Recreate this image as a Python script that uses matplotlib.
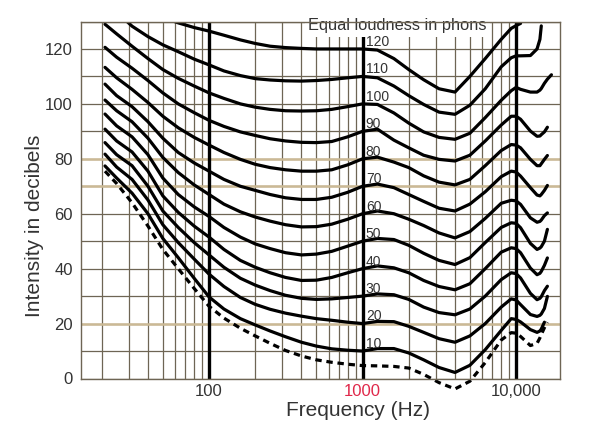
import numpy as np
import matplotlib
matplotlib.use('Agg')
import matplotlib.pyplot as plt
from matplotlib.ticker import LogLocator, FixedLocator, NullFormatter, MultipleLocator
from matplotlib.patches import Rectangle

nan = np.nan

# Frequencies (Hz) at which the curves were read
freq_hz = [21, 25, 31.5, 40, 50, 63, 80, 100, 125, 160, 200, 250, 315, 400, 500,
           630, 800, 1000, 1250, 1600, 2000, 2500, 3150, 4000, 5000, 6300, 8000,
           9300, 10000, 10700, 12400, 13700, 14300, 14600, 15300, 16000, 17000]

phon_levels = [120, 110, 100, 90, 80, 70, 60, 50, 40, 30, 20, 10]

spl_120 = [nan, nan, nan, nan, 131.5, 129.5, 127.8, 126.5, 125, 123.3, 122, 121, 120.5, 120.2, 120,
           120, 120, 120, 119.6, 116.5, 112.5, 108.8, 105.5, 104.3, 110, 116.5, 123.5,
           127.5, 128.5, 129.3, nan, nan, nan, nan, nan, nan, nan]
spl_110 = [nan, 133.5, 128.3, 124.5, 121.5, 119, 116.3, 114.2, 112, 110.3, 109.2, 108.7, 108.4, 108.3, 108.5,
           108.9, 109.5, 110, 109.5, 106.5, 103, 99.8, 97, 96.2, 99.5, 105.5, 113.5,
           116.8, 117.5, 117.5, 117.6, 120, 123.5, 128.4, nan, nan, nan]
spl_100 = [129, 125.5, 121, 116.5, 112.5, 109.3, 106.5, 104, 102, 100, 98.8, 98, 97.5, 97.4, 97.5,
           98, 99, 100, 99.8, 96.7, 93, 89.8, 87.8, 87.1, 89.3, 95, 101.3,
           104.8, 106, 105.3, 104.3, 104.3, 105, 105.6, 107.5, 109, 110.6]
spl_90 = [120.6, 117, 113, 108.5, 104, 100, 96.8, 94, 91.8, 89.8, 88.5, 87.3, 86.5, 86, 85.9,
          86.3, 88, 90, 90.8, 86.8, 84, 81.3, 79.8, 79.2, 81.3, 86.5, 92.3,
          95.5, 95.5, 94.4, 90.1, 88.2, 88.3, 88.8, 89.8, 91.5, nan]
spl_80 = [113.3, 109.5, 105.3, 100.5, 95.5, 91.3, 87.8, 85, 82.3, 79.8, 78, 76.8, 76, 75.5, 75.5,
          76, 77.8, 80, 80.6, 78.8, 76.8, 73.8, 71.5, 70.5, 72.5, 77.5, 83,
          85.2, 85, 84, 79.8, 77.5, 77.5, 78.2, 79.8, 81.2, nan]
spl_70 = [107.2, 103, 99, 93.5, 87.5, 82.3, 78.5, 75.5, 72.5, 70, 68.5, 67, 65.8, 65.2, 65.2,
          66, 67.8, 70, 70.8, 69.5, 67, 64.5, 62, 61, 63.5, 68, 73.5,
          75.5, 75.2, 73.7, 69.5, 66.8, 66.5, 67, 68.5, 70.3, nan]
spl_60 = [101.4, 97.5, 93.5, 87.5, 80.5, 75, 70.5, 67, 63.5, 60.7, 58.8, 57.3, 56, 55.2, 55.3,
          56.2, 58, 60, 61, 60, 58, 55.7, 53, 51.2, 53.5, 58.3, 63.8,
          64.9, 64.7, 63.4, 58.5, 56.9, 57.2, 57.7, 59.3, 60.3, nan]
spl_50 = [96.3, 92, 88, 81.5, 73, 67, 62.5, 59, 55, 51.5, 49, 47.3, 45.8, 45, 45.3,
          46.3, 48.2, 50, 51, 50.6, 48.5, 45.6, 43, 41.5, 44, 49.5, 55,
          56.7, 56.5, 54.9, 49.2, 47, 47.5, 48, 50, 54.3, nan]
spl_40 = [90.8, 86.5, 82.5, 75.5, 66.5, 60.5, 55.5, 51.5, 47, 43, 40.5, 38.5, 36.8, 35.7, 35.8,
          36.8, 38.5, 40, 41, 40.3, 38.5, 35.7, 33.5, 32.3, 34.5, 40, 46,
          47.6, 47.3, 45.8, 40.2, 37.8, 38.3, 39, 41.2, 43.9, nan]
spl_30 = [85.9, 81.5, 77.5, 70, 61, 55, 49.5, 45, 40.5, 36.5, 34, 32, 30.3, 29.2, 28.8,
          29, 29.5, 30, 30.8, 30.5, 28.8, 26, 24, 23.2, 25.3, 30, 36,
          38.5, 38.2, 36.6, 31, 28.7, 29.2, 29.8, 32, 33.6, nan]
spl_20 = [81.7, 77, 72.5, 65, 56, 49.5, 43.5, 38, 33.5, 29.5, 27, 25.2, 23.8, 22.7, 21.8,
          21.2, 20.5, 20, 20.8, 20.7, 19, 16.8, 14.5, 13.2, 15.5, 20, 26,
          29, 28.6, 26.9, 23.3, 22.6, 23, 23.5, 25.5, 29.9, nan]
spl_10 = [77.4, 73, 67.5, 60, 51, 44, 36.5, 29.7, 25.3, 21.8, 19.5, 17.3, 15.2, 13.2, 11.8,
          10.8, 10.3, 10, 10.9, 10.9, 9.3, 6.8, 4, 2.2, 4.8, 10.5, 17.5,
          21.8, 21.5, 20.6, 17.8, 16.8, 17.3, 18, 20.5, nan, nan]
spl_threshold = [75.5, 71, 64, 55.5, 47, 40, 32.8, 26.3, 22, 18.3, 15.5, 12.8, 10.2, 8.2, 6.8,
                 5.9, 5.2, 4.7, 4.6, 4.4, 3.8, 1.5, -1.5, -3.8, -1, 5.8, 14,
                 16.7, 16.5, 15.3, 12, 12.8, 14.8, 16, 18.5, 20.5, nan]

x_tick_values = [100, 1000, 10000]
x_tick_labels = ['100', '1000', '10,000']
y_tick_values = [0, 20, 40, 60, 80, 100, 120]
tan_levels = [20, 70, 80]
thick_freqs = [100, 1000, 10000]

curves = [spl_120, spl_110, spl_100, spl_90, spl_80, spl_70,
          spl_60, spl_50, spl_40, spl_30, spl_20, spl_10]

plt.rcParams['font.family'] = ['Liberation Sans', 'DejaVu Sans']

W, H = 590, 433
fig = plt.figure(figsize=(W / 100, H / 100), dpi=100)
fig.patch.set_facecolor('white')
ax = fig.add_axes([81 / W, 1 - 378.5 / H, 479 / W, (378.5 - 21.5) / H])
ax.set_xscale('log')
ax.set_xlim(14.65, 19330)
ax.set_ylim(0, 130)

grid_color = '#6e6554'
text_color = '#333333'

ax.set_xticks(x_tick_values)
ax.set_xticklabels(x_tick_labels)
ax.xaxis.set_minor_locator(LogLocator(base=10, subs=range(2, 10), numticks=50))
ax.xaxis.set_minor_formatter(NullFormatter())
ax.yaxis.set_major_locator(FixedLocator(y_tick_values))
ax.yaxis.set_minor_locator(MultipleLocator(10))
ax.grid(True, which='both', color=grid_color, lw=0.9)
ax.set_axisbelow(True)
ax.tick_params(which='both', length=0)
ax.tick_params(axis='x', pad=4, labelsize=12, labelcolor=text_color)
ax.tick_params(axis='y', pad=6, labelsize=12, labelcolor=text_color)
ax.get_xticklabels()[1].set_color('#e0284a')

for lvl in tan_levels:
    ax.axhline(lvl, color='#cbb995', lw=1.8, zorder=1)

for f in thick_freqs:
    ax.axvline(f, color='black', lw=2.4, zorder=2)

# white box behind the title text
ax.add_patch(Rectangle((420, 124.3), 6800 - 420, 130 - 124.3,
                       facecolor='white', edgecolor='none', zorder=3))
ax.text(1680, 128.4, 'Equal loudness in phons', fontsize=11.8, ha='center',
        va='center', color=text_color, zorder=4)

for lvl, vals in zip(phon_levels, curves):
    ax.plot(freq_hz, vals, color='black', lw=2.3, solid_joinstyle='round',
            solid_capstyle='round', zorder=4)
    ax.text(1050, lvl + 2.6, str(lvl), fontsize=10, ha='left', va='center',
            color=text_color, zorder=4)

ax.plot(freq_hz, spl_threshold, color='black', lw=2.3, ls=(0, (2.0, 1.5)),
        dash_capstyle='butt', clip_on=False, zorder=4)

for s in ax.spines.values():
    s.set_color(grid_color)
    s.set_linewidth(1.0)
    s.set_zorder(5)

fig.text(358 / W, 1 - 411 / H, 'Frequency (Hz)', fontsize=15, ha='center',
         va='center', color=text_color)
fig.text(35 / W, 1 - 226 / H, 'Intensity in decibels', fontsize=15, ha='center',
         va='center', rotation=90, color=text_color)

fig.savefig('out.png', dpi=100)
